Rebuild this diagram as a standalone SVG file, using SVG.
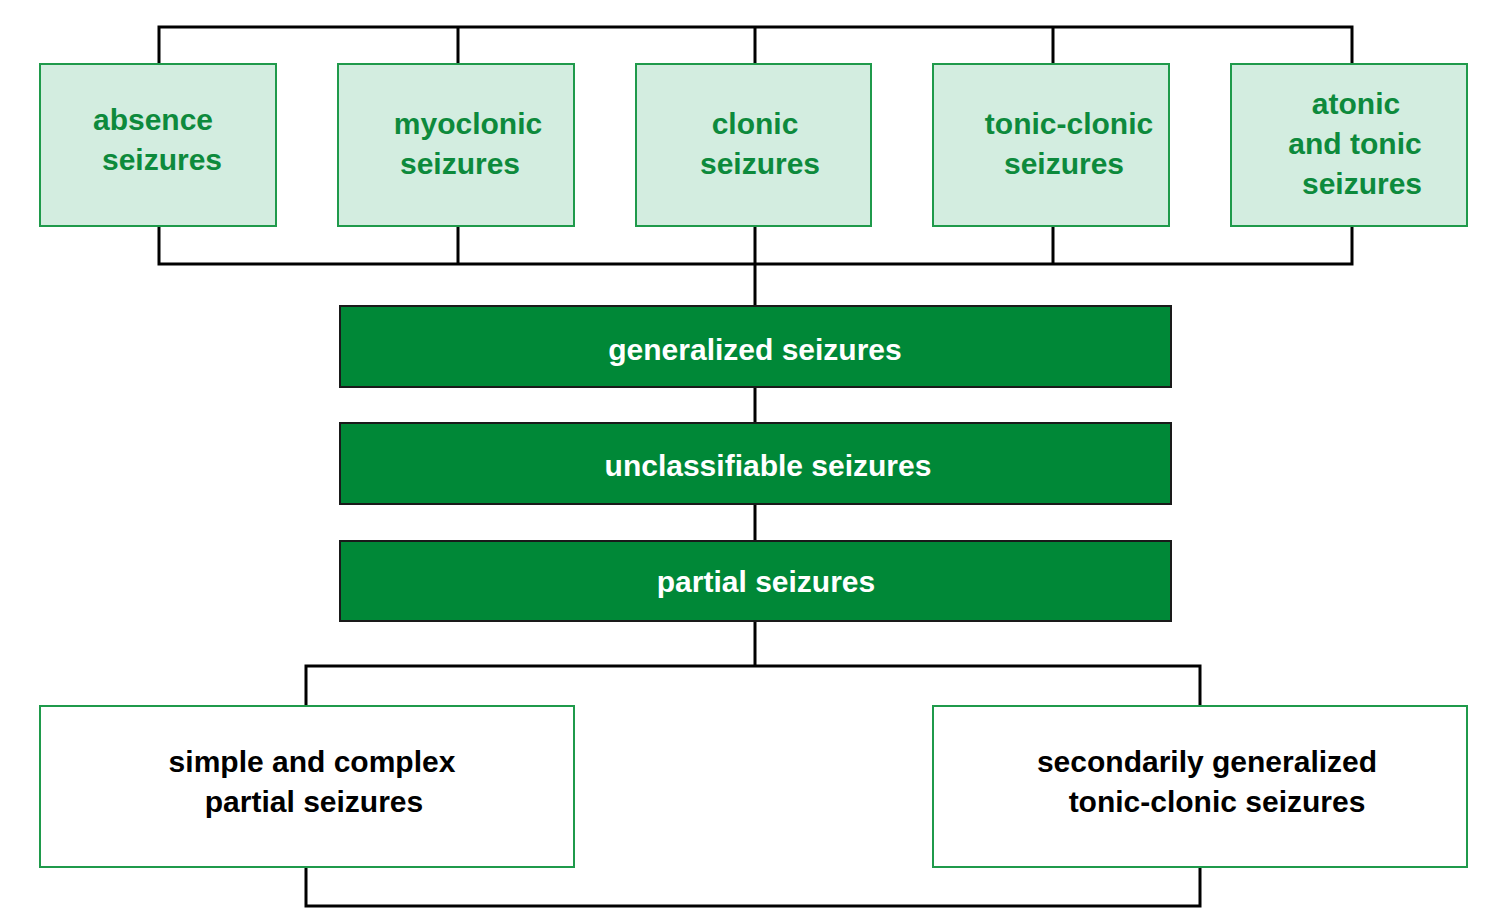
<svg xmlns="http://www.w3.org/2000/svg" width="1488" height="910" viewBox="0 0 1488 910">
<style>
.l{fill:#d3ede0;stroke:#1f9a4b;stroke-width:2}
.d{fill:#008837;stroke:#1a1a1a;stroke-width:2}
.w{fill:#fff;stroke:#1f9a4b;stroke-width:2}
text{font-family:"Liberation Sans",Arial,sans-serif;font-weight:bold;font-size:30px;text-anchor:middle}
.gt{fill:#0d8a3c}.wt{fill:#fff}.kt{fill:#000}
#c path{fill:none;stroke:#000;stroke-width:3}
</style>
<rect width="1488" height="910" fill="#fff"/>
<g id="c">
<path d="M159 64V27H1352V64M458 27V64M755 27V64M1053 27V64"/>
<path d="M159 226V264H1352V226M458 226V264M755 226V306M1053 226V264"/>
<path d="M755 387V423M755 504V541M755 621V666M306 706V666H1200V706"/>
<path d="M306 867V906H1200V867"/>
</g>
<g id="n1"><rect class="l" x="40" y="64" width="236" height="162"/><text class="gt"><tspan x="153" y="130">absence</tspan><tspan x="162" y="170">seizures</tspan></text></g>
<g id="n2"><rect class="l" x="338" y="64" width="236" height="162"/><text class="gt"><tspan x="468" y="134">myoclonic</tspan><tspan x="460" y="174">seizures</tspan></text></g>
<g id="n3"><rect class="l" x="636" y="64" width="235" height="162"/><text class="gt"><tspan x="755" y="134">clonic</tspan><tspan x="760" y="174">seizures</tspan></text></g>
<g id="n4"><rect class="l" x="933" y="64" width="236" height="162"/><text class="gt"><tspan x="1069" y="134">tonic-clonic</tspan><tspan x="1064" y="174">seizures</tspan></text></g>
<g id="n5"><rect class="l" x="1231" y="64" width="236" height="162"/><text class="gt"><tspan x="1356" y="114">atonic</tspan><tspan x="1355" y="154">and tonic</tspan><tspan x="1362" y="194">seizures</tspan></text></g>
<g id="g1"><rect class="d" x="340" y="306" width="831" height="81"/><text class="wt" x="755" y="360">generalized seizures</text></g>
<g id="g2"><rect class="d" x="340" y="423" width="831" height="81"/><text class="wt" x="768" y="476">unclassifiable seizures</text></g>
<g id="g3"><rect class="d" x="340" y="541" width="831" height="80"/><text class="wt" x="766" y="592">partial seizures</text></g>
<g id="b1"><rect class="w" x="40" y="706" width="534" height="161"/><text class="kt"><tspan x="312" y="772">simple and complex</tspan><tspan x="314" y="812">partial seizures</tspan></text></g>
<g id="b2"><rect class="w" x="933" y="706" width="534" height="161"/><text class="kt"><tspan x="1207" y="772">secondarily generalized</tspan><tspan x="1217" y="812">tonic-clonic seizures</tspan></text></g>
</svg>
